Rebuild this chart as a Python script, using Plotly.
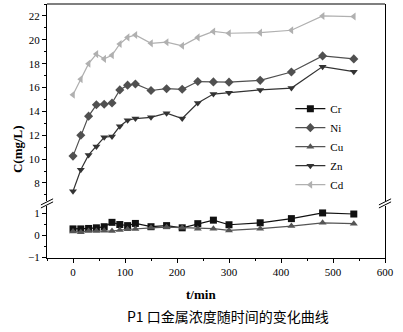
import plotly.graph_objects as go

t = [0, 15, 30, 45, 60, 75, 90, 105, 120, 150, 180, 210, 240, 270, 300, 360, 420, 480, 540]
cr = [0.30, 0.30, 0.32, 0.35, 0.40, 0.60, 0.50, 0.45, 0.55, 0.40, 0.45, 0.35, 0.54, 0.70, 0.49, 0.58, 0.77, 1.03, 0.98]
ni = [10.25, 12.0, 13.6, 14.55, 14.6, 14.7, 15.8, 16.2, 16.3, 15.75, 15.9, 15.85, 16.5, 16.47, 16.45, 16.6, 17.3, 18.65, 18.4]
cu = [0.18, 0.15, 0.20, 0.20, 0.22, 0.20, 0.25, 0.28, 0.30, 0.35, 0.38, 0.35, 0.31, 0.31, 0.23, 0.31, 0.43, 0.58, 0.54]
zn = [7.3, 9.1, 10.35, 11.05, 11.83, 11.9, 12.75, 13.25, 13.4, 13.5, 13.85, 13.4, 14.7, 15.45, 15.57, 15.8, 15.95, 17.75, 17.33]
cd = [15.4, 16.7, 18.0, 18.8, 18.4, 18.7, 19.65, 20.2, 20.4, 19.7, 19.8, 19.5, 20.2, 20.7, 20.55, 20.6, 20.8, 22.0, 21.95]

x_ticks = [0, 100, 200, 300, 400, 500, 600]
y_up_ticks = [8, 10, 12, 14, 16, 18, 20, 22]
y_low_ticks = [-1, 0, 1]

series = [
    ("Cr", cr, "y2", "#111111", "square"),
    ("Ni", ni, "y", "#505050", "diamond"),
    ("Cu", cu, "y2", "#555555", "triangle-up"),
    ("Zn", zn, "y", "#333333", "triangle-down"),
    ("Cd", cd, "y", "#b0b0b0", "triangle-left"),
]

fig = go.Figure()
for name, vals, ax, col, sym in series:
    fig.add_trace(go.Scatter(
        x=t, y=vals, yaxis=ax, name=name, mode="lines+markers",
        line=dict(color=col, width=1.2),
        marker=dict(symbol=sym, size=7, color=col),
    ))

serif = "Liberation Serif"
axis_common = dict(showline=True, linecolor="black", linewidth=1.2, ticks="outside",
                   ticklen=4, tickwidth=1, tickcolor="black", showgrid=False,
                   zeroline=False, tickfont=dict(family=serif, size=11, color="black"))

fig.update_layout(
    width=403, height=332,
    margin=dict(l=47, r=18, t=4, b=74),
    paper_bgcolor="white", plot_bgcolor="white",
    font=dict(family=serif),
    xaxis=dict(range=[-50, 600], tickvals=x_ticks, anchor="y2",
               minor=dict(dtick=50, tick0=0, ticks="outside", ticklen=2, tickcolor="black"),
               **axis_common),
    yaxis=dict(domain=[0.225, 1], range=[6.5, 23], tickvals=y_up_ticks, anchor="x",
               mirror=True,
               minor=dict(dtick=1, tick0=0, ticks="outside", ticklen=2, tickcolor="black"),
               **axis_common),
    yaxis2=dict(domain=[0, 0.205], range=[-1.03, 1.35], tickvals=y_low_ticks, anchor="x",
                mirror=True,
                minor=dict(dtick=0.5, tick0=0, ticks="outside", ticklen=2, tickcolor="black"),
                **axis_common),
    legend=dict(x=0.72, y=0.645, xanchor="left", yanchor="top",
                bgcolor="rgba(0,0,0,0)", borderwidth=0,
                font=dict(family=serif, size=11, color="black"),
                tracegroupgap=0, itemwidth=30),
    showlegend=True,
)

# top frame line
fig.add_shape(type="line", xref="paper", yref="paper", x0=0, x1=1, y0=1, y1=1,
              line=dict(color="black", width=1.2))

# axis break marks
for xp in [0, 1]:
    for dy in [-0.006, 0.006]:
        yc = 0.215 + dy
        fig.add_shape(type="line", xref="paper", yref="paper",
                      x0=xp - 0.018, x1=xp + 0.018, y0=yc - 0.012, y1=yc + 0.012,
                      line=dict(color="black", width=1))

fig.add_annotation(text="<b>C(mg/L)</b>", xref="paper", yref="paper",
                   x=-0.085, y=0.43, textangle=-90, showarrow=False,
                   font=dict(family=serif, size=13, color="black"),
                   xanchor="center", yanchor="middle")
fig.add_annotation(text="<b>t/min</b>", xref="paper", yref="paper",
                   x=0.455, y=-0.145, showarrow=False,
                   font=dict(family=serif, size=13, color="black"),
                   xanchor="center", yanchor="middle")
fig.add_annotation(text="P1 口金属浓度随时间的变化曲线", xref="paper", yref="paper",
                   x=0.535, y=-0.23, showarrow=False,
                   font=dict(family="Noto Sans CJK SC", size=14, color="black"),
                   xanchor="center", yanchor="middle")

fig.write_html("out.html")
